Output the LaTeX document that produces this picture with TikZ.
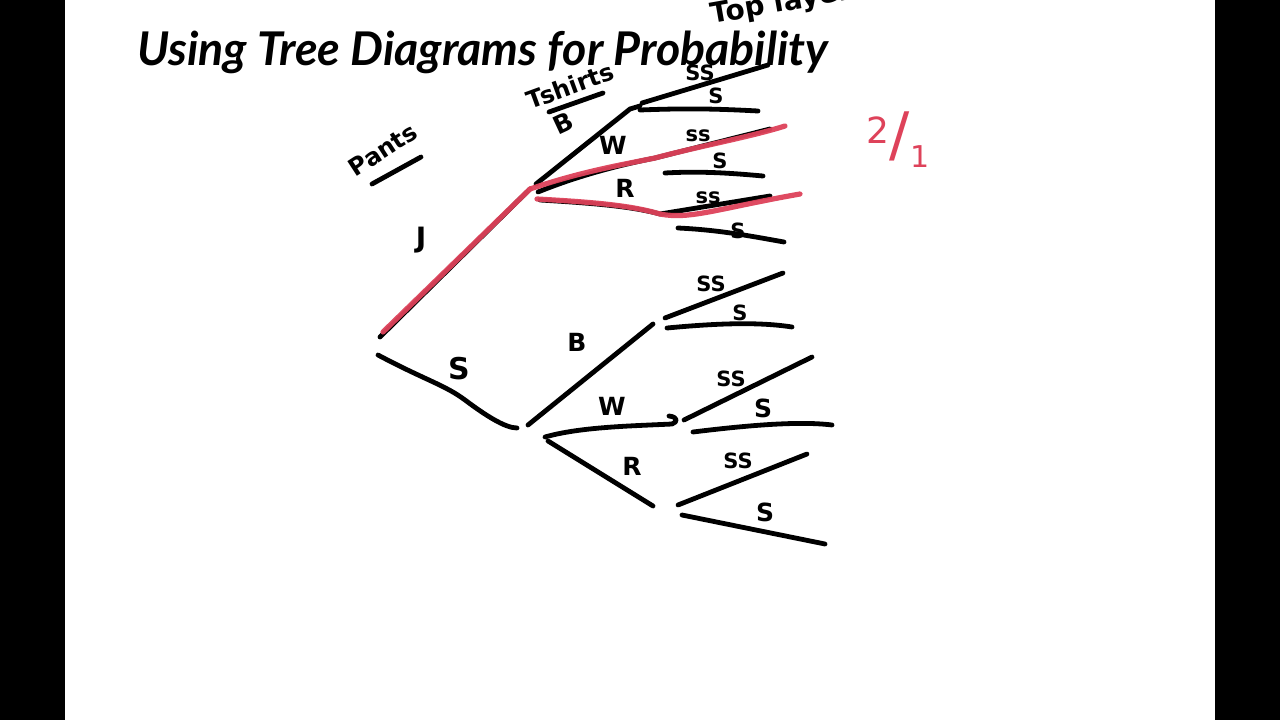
\documentclass[tikz,border=0pt]{standalone}
\usepackage{fontspec}
\setmainfont{Lato}
\newfontfamily\hand{DejaVu Sans}
\usepackage{graphicx}
\definecolor{penred}{RGB}{222,66,90}
\tikzset{
  ink/.style={draw=black, line width=4.8pt, line cap=round, line join=round},
  redink/.style={draw=penred, line width=5.2pt, line cap=round, line join=round, opacity=0.95},
  lbl/.style={font=\hand\bfseries\fontsize{25}{25}\selectfont, inner sep=0pt},
  sml/.style={font=\hand\bfseries\fontsize{21}{21}\selectfont, inner sep=0pt},
  head/.style={font=\hand\bfseries\fontsize{24}{24}\selectfont, inner sep=0pt},
}
\begin{document}
\begin{tikzpicture}[x=1pt,y=-1pt]
\useasboundingbox (0,0) rectangle (1280,720);
\fill[white] (0,0) rectangle (1280,720);
\fill[black] (0,0) rectangle (65,720);
\fill[black] (1215,0) rectangle (1280,720);

% title
\node[anchor=base west, inner sep=0pt] (title) at (137,65)
  {\resizebox{691pt}{!}{\bfseries\itshape Using Tree Diagrams for Probability}};

% tree coordinates
\coordinate (r1) at (380,337);
\coordinate (r2) at (378,355);
\coordinate (J) at (530,189);
\coordinate (Sn) at (517,428);
% J subtree
\coordinate (Jb) at (536,184);
\coordinate (B1) at (630,109);
\coordinate (Jw) at (538,192);
\coordinate (W1) at (655,158);
\coordinate (W1e) at (770,129);
\coordinate (Jr) at (540,200);
\coordinate (R1) at (660,214);
\coordinate (R1e) at (770,196);
% S subtree
\coordinate (Sb) at (528,425);
\coordinate (B2) at (653,324);
\coordinate (Sw) at (545,437);
\coordinate (W2) at (672,424);
\coordinate (Sr) at (548,441);
\coordinate (R2) at (653,506);

% first level
\draw[ink] (r1) -- (J);
\draw[ink] (r2) .. controls (425,380) and (445,385) .. (465,400) .. controls (485,415) and (505,428) .. (Sn);
\node[lbl, font=\hand\bfseries\fontsize{28}{28}\selectfont] (lJ) at (421,240) {J};
\node[lbl, font=\hand\bfseries\fontsize{30}{30}\selectfont] (lS) at (459,369) {S};

% J subtree, second level
\draw[ink] (Jb) -- (B1) -- (640,106);
\draw[ink] (Jw) .. controls (580,175) and (620,165) .. (W1) -- (W1e);
\draw[ink] (Jr) .. controls (590,203) and (630,206) .. (R1) -- (R1e);
\node[lbl, rotate=25] (lB1) at (563,123) {B};
\node[lbl] (lW1) at (613,145) {W};
\node[lbl] (lR1) at (625,188) {R};

% J subtree, third level
\coordinate (B1a) at (642,103); \coordinate (B1ae) at (768,65);
\coordinate (B1b) at (640,110); \coordinate (B1be) at (758,111);
\draw[ink] (B1a) -- (B1ae);
\draw[ink] (B1b) .. controls (690,108) and (720,109) .. (B1be);
\node[sml] (ss1) at (700,73) {SS};
\node[sml] (s1) at (716,96) {S};

\coordinate (W1b) at (665,173); \coordinate (W1be) at (763,176);
\draw[ink] (W1b) .. controls (700,171) and (730,173) .. (W1be);
\node[sml] (ss2) at (698,136) {ss};
\node[sml] (s2) at (720,161) {S};

\coordinate (R1b) at (678,228); \coordinate (R1be) at (784,242);
\draw[ink] (R1b) .. controls (720,230) and (750,236) .. (R1be);
\node[sml] (ss3) at (708,198) {ss};
\node[sml] (s3) at (738,231) {S};

% red path
\draw[redink] (383,332) -- (J);
\draw[redink] (J) .. controls (580,172) and (620,165) .. (W1) .. controls (700,146) and (750,137) .. (785,126);
\draw[redink] (537,199) .. controls (590,202) and (630,205) .. (R1) .. controls (690,220) and (720,208) .. (800,194);

% labels of levels
\node[head, rotate=33] (pants) at (383,150) {Pants};
\draw[ink] (372,184) -- (421,157);
\node[head, rotate=20] (tsh) at (570,86) {Tshirts};
\draw[ink] (549,112) -- (603,93);
\node[head, rotate=10, anchor=base west, font=\hand\bfseries\fontsize{28}{28}\selectfont] (top) at (712,24) {Top layer};

% S subtree, second level
\draw[ink] (Sb) -- (B2);
\draw[ink] (Sw) .. controls (580,427) and (630,426) .. (W2) .. controls (678,422) and (678,417) .. (669,416);
\draw[ink] (Sr) -- (R2);
\node[lbl] (lB2) at (577,342) {B};
\node[lbl] (lW2) at (612,406) {W};
\node[lbl] (lR2) at (632,466) {R};

% S subtree, third level
\coordinate (B2a) at (665,318); \coordinate (B2ae) at (783,273);
\coordinate (B2b) at (667,328); \coordinate (B2be) at (792,327);
\draw[ink] (B2a) -- (B2ae);
\draw[ink] (B2b) .. controls (720,323) and (760,322) .. (B2be);
\node[sml] (ss4) at (711,284) {SS};
\node[sml] (s4) at (740,313) {S};

\coordinate (W2a) at (684,420); \coordinate (W2ae) at (812,357);
\coordinate (W2b) at (693,432); \coordinate (W2be) at (832,425);
\draw[ink] (W2a) -- (W2ae);
\draw[ink] (W2b) .. controls (750,425) and (800,421) .. (W2be);
\node[sml] (ss5) at (731,379) {SS};
\node[lbl] (s5) at (763,408) {S};

\coordinate (R2a) at (678,505); \coordinate (R2ae) at (807,454);
\coordinate (R2b) at (682,515); \coordinate (R2be) at (825,544);
\draw[ink] (R2a) -- (R2ae);
\draw[ink] (R2b) -- (R2be);
\node[sml] (ss6) at (738,461) {SS};
\node[lbl] (s6) at (765,512) {S};

% red note
\node[font=\hand\fontsize{60}{60}\selectfont, text=penred, inner sep=0pt] (frac) at (898,140)
  {\raisebox{12pt}{\fontsize{36}{36}\selectfont 2}/\raisebox{-12pt}{\fontsize{30}{30}\selectfont 1}};
\end{tikzpicture}
\end{document}
